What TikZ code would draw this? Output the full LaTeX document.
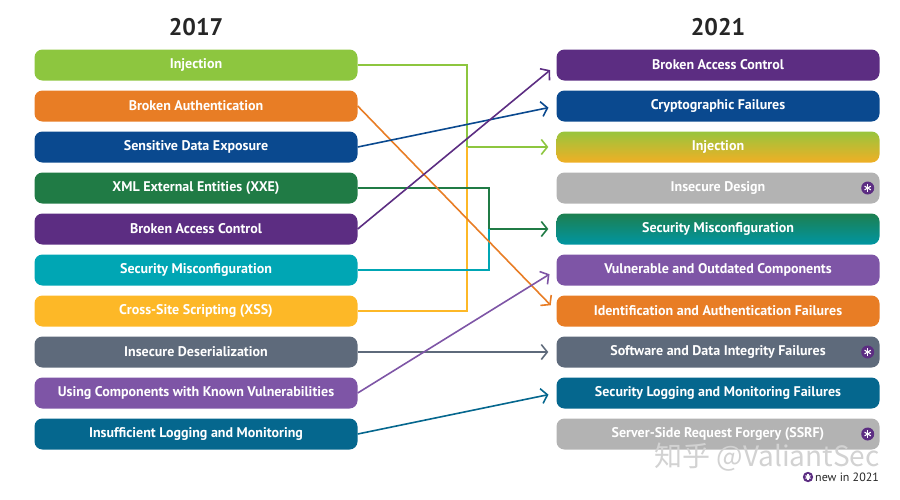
\documentclass[tikz,border=0pt]{standalone}
\usepackage{fontspec}
\setmainfont{PT Sans}
\newfontfamily\cjk{Noto Sans CJK SC}
\usetikzlibrary{arrows.meta}
\definecolor{cinj}{HTML}{8DC63F}
\definecolor{cauth}{HTML}{E87D25}
\definecolor{cdata}{HTML}{0A498F}
\definecolor{cxxe}{HTML}{207B45}
\definecolor{cbac}{HTML}{5C2D82}
\definecolor{cmis}{HTML}{00A6B4}
\definecolor{cxss}{HTML}{FDB827}
\definecolor{cdes}{HTML}{5E6A7B}
\definecolor{ccomp}{HTML}{7E55A6}
\definecolor{clog}{HTML}{05678E}
\definecolor{cnew}{HTML}{B3B3B3}
\definecolor{ctitle}{HTML}{262626}
\tikzset{
  item/.style={rounded corners=8pt, minimum width=323pt, minimum height=31pt,
    inner sep=0pt, text=white, font=\bfseries\fontsize{14}{16}\selectfont},
  title/.style={text=ctitle, font=\bfseries\fontsize{24}{28}\selectfont},
  link/.style={line width=1.6pt},
  arr/.style={link, -{Straight Barb[length=6pt,width=15pt]}, shorten >=8pt},
  newmark/.pic={
    \fill[cbac] (0,0) circle (6.5);
    \foreach \a in {90,30,-30}
      \draw[white,line width=1.1pt] (\a:3.6) -- (\a+180:3.6);
  }
}
\begin{document}
\begin{tikzpicture}[x=1pt,y=-1pt]
\useasboundingbox (0,0) rectangle (900,499);
\def\d{41}
% titles
\node[title,name=t1] at (196,27){2017};
\node[title,name=t2] at (718,27){2021};
% 2017
\node[item,fill=cinj,name=a1] at (196,65){Injection};
\node[item,fill=cauth,name=a2] at (196,65+\d){Broken Authentication};
\node[item,fill=cdata,name=a3] at (196,65+2*\d){Sensitive Data Exposure};
\node[item,fill=cxxe,name=a4] at (196,65+3*\d){XML External Entities (XXE)};
\node[item,fill=cbac,name=a5] at (196,65+4*\d){Broken Access Control};
\node[item,fill=cmis,name=a6] at (196,65+5*\d){Security Misconfiguration};
\node[item,fill=cxss,name=a7] at (196,65+6*\d){Cross-Site Scripting (XSS)};
\node[item,fill=cdes,name=a8] at (196,65+7*\d){Insecure Deserialization};
\node[item,fill=ccomp,name=a9] at (196,65+8*\d){Using Components with Known Vulnerabilities};
\node[item,fill=clog,name=a10] at (196,65+9*\d){Insufficient Logging and Monitoring};
% 2021
\node[item,fill=cbac,name=b1] at (718,65){Broken Access Control};
\node[item,fill=cdata,name=b2] at (718,65+\d){Cryptographic Failures};
\node[item,top color=cinj!90!cxss,bottom color=cxss!95!black,name=b3] at (718,65+2*\d){Injection};
\node[item,fill=cnew,name=b4] at (718,65+3*\d){Insecure Design};
\node[item,top color=cxxe!90!cmis,bottom color=cmis!90!black,name=b5] at (718,65+4*\d){Security Misconfiguration};
\node[item,fill=ccomp,name=b6] at (718,65+5*\d){Vulnerable and Outdated Components};
\node[item,fill=cauth,name=b7] at (718,65+6*\d){Identification and Authentication Failures};
\node[item,fill=cdes,name=b8] at (718,65+7*\d){Software and Data Integrity Failures};
\node[item,fill=clog,name=b9] at (718,65+8*\d){Security Logging and Monitoring Failures};
\node[item,fill=cnew,name=b10] at (718,65+9*\d){Server-Side Request Forgery (SSRF)};
\pic at ([xshift=-12pt]b4.east) {newmark};
\pic at ([xshift=-12pt]b8.east) {newmark};
\pic at ([xshift=-12pt]b10.east) {newmark};
% connectors
\coordinate (m1) at (467,0);
\coordinate (m2) at (489,0);
\draw[arr,cinj] (a1.east) -| (m1 |- b3.west) -- (b3.west);
\draw[link,cxss] (a7.east) -| (m1 |- b3.west);
\draw[arr,cxxe] (a4.east) -| (m2 |- b5.west) -- (b5.west);
\draw[link,cmis] (a6.east) -| (m2 |- b5.west);
\draw[arr,cauth] (a2.east) -- (b7.west);
\draw[arr,cdata] (a3.east) -- (b2.west);
\draw[arr,cbac] (a5.east) -- (b1.west);
\draw[arr,cdes] (a8.east) -- (b8.west);
\draw[arr,ccomp] (a9.east) -- (b6.west);
\draw[arr,clog] (a10.east) -- (b9.west);
% watermark and legend
\node[text=gray!35,font=\cjk\fontsize{28}{32}\selectfont,name=w] at (767,457){知乎 @ValiantSec};
\pic[scale=0.8] at (808,477) {newmark};
\node[anchor=west,text=ctitle,font=\fontsize{12}{14}\selectfont,inner sep=0pt,name=lg] at (815,477){new in 2021};
\end{tikzpicture}
\end{document}
